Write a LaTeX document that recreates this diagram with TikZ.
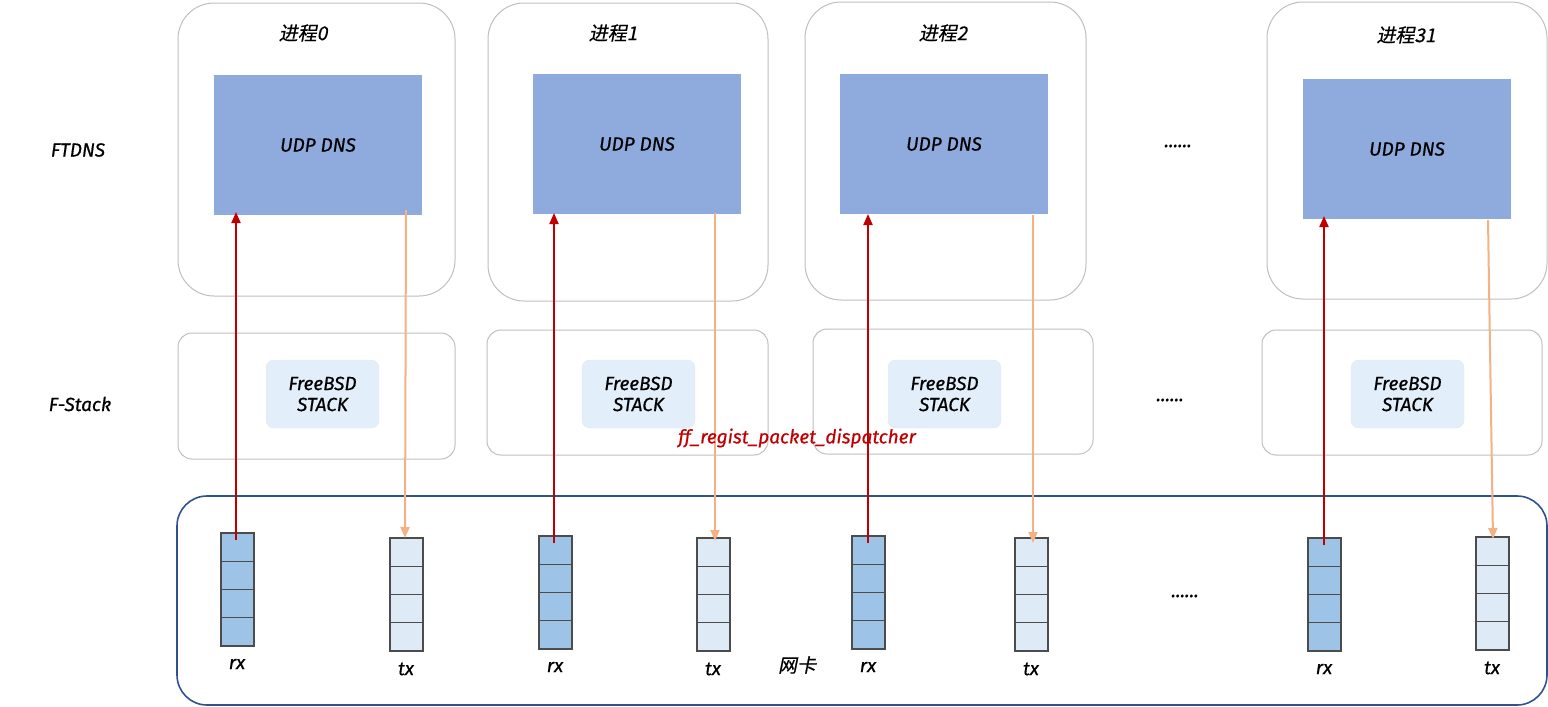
\documentclass[tikz,border=0pt]{standalone}
\usepackage{fontspec}
\setmainfont{Fira Sans}[ItalicFeatures={FakeBold=0.6}]
\newfontfamily\cjk{Noto Sans CJK SC}[FakeSlant=0.2,FakeBold=0.6]
\usetikzlibrary{arrows.meta}
\definecolor{udp}{HTML}{8FAADC}
\definecolor{bsd}{HTML}{E3EEFB}
\definecolor{rxc}{HTML}{9DC3E6}
\definecolor{txc}{HTML}{DEEBF7}
\definecolor{nic}{HTML}{2F528F}
\definecolor{redc}{HTML}{C00000}
\definecolor{orc}{HTML}{F4B183}
\begin{document}
\begin{tikzpicture}[x=1pt,y=-1pt,
 proc/.style={draw=black!25,rounded corners=36pt,line width=1pt},
 stk/.style={draw=black!25,rounded corners=14pt,line width=1pt},
 lab/.style={font=\itshape\fontsize{19}{22}\selectfont},
 clab/.style={font=\cjk\fontsize{19}{22}\selectfont},
 ra/.style={draw=redc,line width=2pt,-{Triangle[length=11pt,width=9pt]}},
 oa/.style={draw=orc,line width=2pt,-{Triangle[length=11pt,width=9pt]}},
 q/.style={draw=black!70,line width=1.2pt}]
\useasboundingbox (0,0) rectangle (1548,707);
% process boxes
\draw[proc] (178,3) rectangle (455,296);
\draw[proc] (488,3) rectangle (768,301);
\draw[proc] (805,2) rectangle (1086,300);
\draw[proc] (1267,2) rectangle (1547,299);
\node[clab] (p0) at (303,33) {进程0};
\node[clab] (p1) at (613,33) {进程1};
\node[clab] (p2) at (943,33) {进程2};
\node[clab] (p31) at (1406,35) {进程31};
% UDP DNS
\foreach \n/\x/\y in {u0/214/75,u1/533/74,u2/840/74,u3/1303/79}{
 \fill[udp] (\x,\y) rectangle ++(208,140);
 \node[lab] (\n) at (\x+104,\y+70) {UDP DNS};}
% F-Stack
\draw[stk] (178,333) rectangle (455,459);
\draw[stk] (487,330) rectangle (768,455);
\draw[stk] (813,329) rectangle (1093,454);
\draw[stk] (1262,330) rectangle (1542,455);
\foreach \n/\x in {b0/266,b1/582,b2/888,b3/1351}{
 \draw[fill=bsd,draw=black!10,rounded corners=8pt] (\x,360) rectangle ++(113,68);
 \node[lab,align=center,inner sep=0pt] (\n) at (\x+56.5,394) {FreeBSD\\[-1pt]STACK};}
% NIC
\draw[draw=nic,line width=1.6pt,rounded corners=30pt] (177,496) rectangle (1547,705);
\node[clab] (nic) at (797,665) {网卡};
% queues
\foreach \n/\x/\y/\c/\t/\ly in {r0/221/533/rxc/rx/664, t0/390/538/txc/tx/669,
  r1/539/536/rxc/rx/667, t1/697/538/txc/tx/669, r2/852/536/rxc/rx/667, t2/1015/538/txc/tx/669,
  r3/1308/538/rxc/rx/669, t3/1476/537/txc/tx/668}{
 \draw[q,fill=\c] (\x,\y) rectangle ++(33,113);
 \foreach \k in {1,2,3} \draw[q,line width=0.6pt] (\x,\y+28.25*\k) -- ++(33,0);
 \node[lab] (\n l) at (\x+16,\ly) {\t};}
% arrows
\coordinate (a0) at (236,212); \coordinate (c0) at (406,210);
\coordinate (a1) at (554,213); \coordinate (c1) at (715,213);
\coordinate (a2) at (868,214); \coordinate (c2) at (1033,215);
\coordinate (a3) at (1324,216); \coordinate (c3) at (1488,220);
\coordinate (e0) at (236,540); \coordinate (d0) at (405,538);
\coordinate (e1) at (554,543); \coordinate (d1) at (715,541);
\coordinate (e2) at (868,543); \coordinate (d2) at (1033,543);
\coordinate (e3) at (1324,545); \coordinate (d3) at (1493,539);
\foreach \i in {0,1,2,3}{
 \draw[ra] (e\i) -- (a\i);
 \draw[oa] (c\i) -- (d\i);}
% labels
\node[lab] (ftdns) at (78,150) {FTDNS};
\node[lab] (fst) at (80,404) {F-Stack};
\node[lab] (dd1) at (1178,146) {......};
\node[lab] (dd2) at (1170,400) {......};
\node[lab] (dd3) at (1185,596) {......};
\node[lab,text=redc] (ff) at (797,438) {ff\_regist\_packet\_dispatcher};
\end{tikzpicture}
\end{document}
